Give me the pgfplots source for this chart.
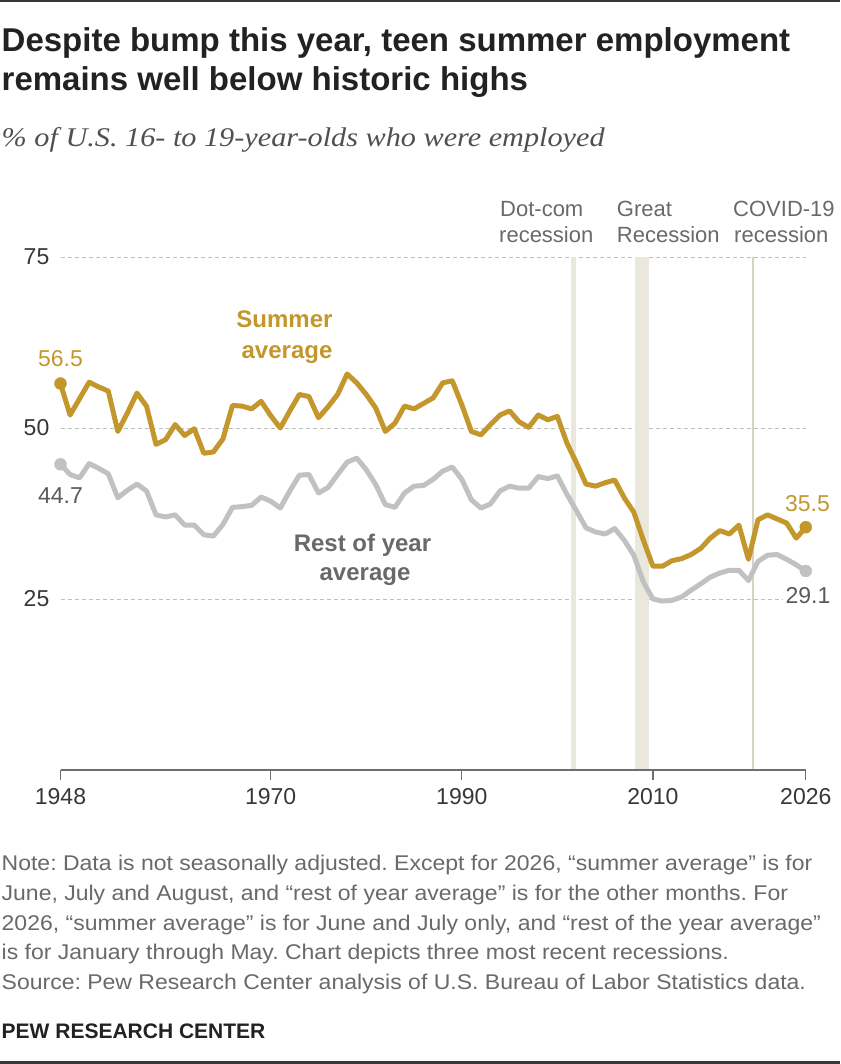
\documentclass[border=0pt]{standalone}
\usepackage{pgfplots}
\pgfplotsset{compat=1.18}
\usepackage{pgfplotstable}
\usepackage{fontspec}
\setmainfont{Liberation Sans}
\newfontfamily\subfont[FakeStretch=1.12]{Liberation Serif}
\newfontfamily\notefont[FakeStretch=1.08]{Liberation Sans}
\definecolor{gold}{RGB}{196,151,44}
\definecolor{greyline}{RGB}{193,193,195}
\definecolor{barc}{RGB}{234,232,221}
\definecolor{covidc}{RGB}{214,211,190}
\definecolor{axisgray}{RGB}{110,110,110}
\definecolor{gridgray}{RGB}{190,190,190}
\definecolor{ticktext}{RGB}{55,55,55}
\definecolor{notec}{RGB}{105,105,105}
\definecolor{titlec}{RGB}{34,34,34}
\definecolor{subc}{RGB}{80,80,80}
\definecolor{restlab}{RGB}{105,105,105}
\definecolor{numgrey}{RGB}{90,90,90}
\definecolor{barline}{RGB}{55,55,55}

\pgfplotstableread{
year summer rest
1948 56.5 44.7
1949 51.9 43.2
1950 54.3 42.7
1951 56.7 44.8
1952 56.0 44.1
1953 55.4 43.3
1954 49.5 39.8
1955 52.2 40.9
1956 55.1 41.8
1957 53.2 40.8
1958 47.6 37.3
1959 48.3 37.0
1960 50.5 37.3
1961 48.9 35.8
1962 49.9 35.8
1963 46.3 34.4
1964 46.5 34.2
1965 48.4 35.9
1966 53.3 38.4
1967 53.2 38.5
1968 52.8 38.7
1969 53.9 39.9
1970 51.8 39.3
1971 50.0 38.3
1972 52.5 40.8
1973 54.9 43.1
1974 54.6 43.2
1975 51.5 40.5
1976 53.1 41.3
1977 54.9 43.2
1978 57.9 45.0
1979 56.6 45.6
1980 54.9 43.9
1981 52.9 41.7
1982 49.5 38.8
1983 50.7 38.4
1984 53.2 40.5
1985 52.8 41.5
1986 53.6 41.6
1987 54.4 42.5
1988 56.6 43.7
1989 56.9 44.3
1990 53.4 42.5
1991 49.5 39.5
1992 49.0 38.3
1993 50.5 38.9
1994 51.9 40.8
1995 52.5 41.5
1996 50.9 41.2
1997 50.1 41.2
1998 51.9 42.9
1999 51.2 42.6
2000 51.7 43.0
2001 47.8 40.3
2002 44.9 37.9
2003 41.8 35.4
2004 41.5 34.8
2005 42.0 34.5
2006 42.4 35.3
2007 39.8 33.6
2008 37.7 31.4
2009 33.6 27.5
2010 29.8 25.0
2011 29.8 24.7
2012 30.6 24.8
2013 30.9 25.3
2014 31.5 26.3
2015 32.4 27.2
2016 33.9 28.2
2017 35.0 28.8
2018 34.5 29.2
2019 35.8 29.2
2020 30.8 27.7
2021 36.6 30.5
2022 37.3 31.4
2023 36.7 31.5
2024 36.1 30.8
2025 33.9 30.0
2026 35.5 29.1
}\datatable

\pgfplotstableread{
year summer rest
1948 56.5 44.7
2026 35.5 29.1
}\endpoints

\begin{document}
\frenchspacing
\begin{tikzpicture}[x=1pt,y=1pt]
\useasboundingbox (0,0) rectangle (840,-1064);
\fill[barline] (0,0) rectangle (840,-2);
\fill[barline] (0,-1061) rectangle (840,-1064);

\begin{axis}[
  at={(60.5pt,-770pt)}, anchor=south west,
  scale only axis, width=745.3pt, height=513pt,
  xmin=1948, xmax=2026, ymin=0, ymax=75,
  clip=false,
  axis line style={draw=none},
  xtick={1948,1970,1990,2010,2026},
  xticklabels={1948,1970,1990,2010,2026},
  ytick={25,50,75},
  xtick pos=left, ytick pos=left,
  tick align=outside,
  major tick length=10pt,
  x tick style={color=axisgray, line width=1.3pt},
  y tick style={draw=none},
  ymajorgrids,
  grid style={color=gridgray, line width=1pt, dash pattern=on 4pt off 3pt},
  ticklabel style={font=\fontsize{23}{27}\selectfont, text=ticktext},
  /pgf/number format/assume math mode=true,
  yticklabel style={inner sep=0pt, xshift=-1pt},
  xticklabel style={inner sep=0pt, yshift=-8.5pt},
]
\addplot[fill=barc, draw=none] coordinates {(2001.4,0) (2002.0,0) (2002.0,75) (2001.4,75)} -- cycle;
\addplot[fill=barc, draw=none] coordinates {(2008.13,0) (2009.59,0) (2009.59,75) (2008.13,75)} -- cycle;
\addplot[color=covidc, line width=1.5pt] coordinates {(2020.45,0) (2020.45,75)};

\addplot[color=greyline, line width=5pt, line join=round, line cap=round] table[x=year,y=rest] {\datatable};
\addplot[color=gold, line width=5pt, line join=round, line cap=round] table[x=year,y=summer] {\datatable};
\addplot[only marks, mark=*, mark size=6pt, color=greyline] table[x=year,y=rest] {\endpoints};
\addplot[only marks, mark=*, mark size=6pt, color=gold] table[x=year,y=summer] {\endpoints};
\draw[axisgray, line width=1.3pt] (rel axis cs:0,0) -- (rel axis cs:1,0);
\end{axis}

% title and subtitle
\node[anchor=base west, inner sep=0pt, text=titlec, font=\fontsize{33}{39}\selectfont\bfseries] at (1.5,-51.7) {Despite bump this year, teen summer employment};
\node[anchor=base west, inner sep=0pt, text=titlec, font=\fontsize{33}{39}\selectfont\bfseries] at (1.5,-90.7) {remains well below historic highs};
\node[anchor=base west, inner sep=0pt, text=subc, font=\fontsize{27}{32}\selectfont\subfont\itshape] at (1.5,-146.7) {\% of U.S. 16- to 19-year-olds who were employed};

% recession labels
\begin{scope}[every node/.style={anchor=base west, inner sep=0pt, text=notec, font=\fontsize{22}{27}\selectfont}]
\node at (500,-216.7) {Dot-com};
\node at (499,-243) {recession};
\node at (616.7,-216.7) {Great};
\node at (616.7,-243) {Recession};
\node at (733,-216.7) {COVID-19};
\node at (734,-243) {recession};
\end{scope}

% series labels
\node[anchor=base, inner sep=0pt, text=gold, font=\fontsize{24}{30}\selectfont\bfseries] at (284.5,-327) {Summer};
\node[anchor=base, inner sep=0pt, text=gold, font=\fontsize{24}{30}\selectfont\bfseries] at (287,-358) {average};
\node[anchor=base, inner sep=0pt, text=restlab, font=\fontsize{24}{30}\selectfont\bfseries] at (362.5,-551.7) {Rest of year};
\node[anchor=base, inner sep=0pt, text=restlab, font=\fontsize{24}{30}\selectfont\bfseries] at (365,-580) {average};

% value labels
\node[anchor=base, inner sep=0pt, text=gold, font=\fontsize{23}{27}\selectfont] at (60.5,-366) {56.5};
\node[anchor=base, inner sep=0pt, text=numgrey, font=\fontsize{23}{27}\selectfont] at (60.5,-503) {44.7};
\node[anchor=base, inner sep=0pt, text=gold, font=\fontsize{23}{27}\selectfont] at (807.5,-511.7) {35.5};
\node[anchor=base, fill=white, inner xsep=3pt, inner ysep=1pt, text=numgrey, font=\fontsize{23}{27}\selectfont] at (808,-603) {29.1};

% notes
\begin{scope}[every node/.style={anchor=base west, inner sep=0pt, text=notec, font=\fontsize{21.3}{25}\selectfont\notefont}]
\node at (1.5,-870) {Note: Data is not seasonally adjusted. Except for 2026, “summer average” is for};
\node at (1.5,-900) {June, July and August, and “rest of year average” is for the other months. For};
\node at (1.5,-930) {2026, “summer average” is for June and July only, and “rest of the year average”};
\node at (1.5,-959.5) {is for January through May. Chart depicts three most recent recessions.};
\node at (1.5,-989) {Source: Pew Research Center analysis of U.S. Bureau of Labor Statistics data.};
\end{scope}
\node[anchor=base west, inner sep=0pt, text=titlec, font=\fontsize{21}{25}\selectfont\bfseries] at (1.5,-1038) {PEW RESEARCH CENTER};
\end{tikzpicture}
\end{document}
